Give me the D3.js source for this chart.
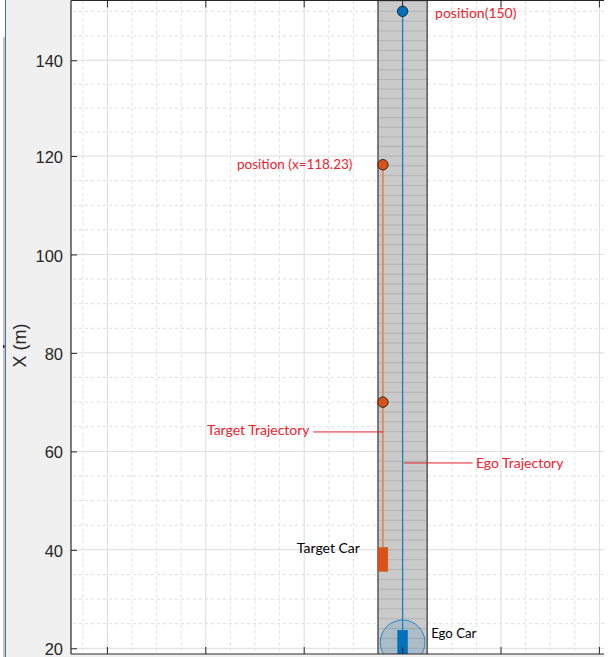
<!DOCTYPE html>
<html><head><meta charset="utf-8">
<script src="https://cdn.jsdelivr.net/npm/d3@7/dist/d3.min.js"></script>
<style>html,body{margin:0;padding:0;background:#fff}svg{display:block}</style>
</head><body><svg id="c" width="615" height="657"></svg>
<script>
const yTicks = [20, 40, 60, 80, 100, 120, 140];
const lateralMajor = [60, 40, 20, 0, -20, -40];
const egoTrajectory = [[0, 21.2], [0, 150]];
const targetTrajectory = [[4, 37], [4, 118.23]];
const egoMarkers = [[0, 150]];
const targetMarkers = [[4, 118.23], [4, 70]];
const roadEdges = [5, -5];
const egoCarExtent = [18.5, 23.66];
const targetCarExtent = [35.65, 40.47];
const egoRadius = 4.55;
const labelTexts = ["position(150)", "position (x=118.23)", "Target Trajectory", "Ego Trajectory", "Target Car", "Ego Car"];
const labelLat = [-6.6, 10.2, 39.76, -14.9, 21.5, -5.8];
const labelX = [149.5, 118.23, 64.2, 57.6, 40.2, 23];

const L = 71, R = 604, T = 0.5, B = 654;
const svg = d3.select("#c");
const y = d3.scaleLinear().domain([150, 140, 120, 20]).range([11.3, 60.3, 156, 648.3]);
const x = d3.scaleLinear().domain([0, 20]).range([402.6, 304.2]);
const minorY = d3.range(20, 155, 5).filter(d => d % 20);
const minorX = d3.range(-40, 70, 5).filter(d => x(d) > L && x(d) < R && d % 20);
const labelAnchor = ["start", "end", "start", "start", "start", "start"];
const labelColor = ["#f0202e", "#f0202e", "#f0202e", "#f0202e", "#000", "#000"];
const labelSize = [14, 13.5, 14, 14, 14, 13.2];
const leaders = [[18.15, 3.92, 63.95], [-0.28, -14.25, 57.65]];
const carHalf = 1;

// window chrome
svg.append("rect").attr("x", 5).attr("y", 0).attr("width", 599).attr("height", 657).attr("fill", "#f0f0f0");
svg.append("rect").attr("x", 3).attr("y", 37).attr("width", 2).attr("height", 620).attr("fill", "#c8c8c8");
svg.append("line").attr("x1", 5.5).attr("x2", 5.5).attr("y1", 0).attr("y2", 657).attr("stroke", "#4a6fa5");
svg.append("rect").attr("x", 3).attr("y", 345).attr("width", 1.5).attr("height", 3).attr("fill", "#222");
svg.append("rect").attr("x", L).attr("y", T).attr("width", R - L).attr("height", B - T).attr("fill", "#fff");

// grid
const g = svg.append("g");
g.selectAll(".my").data(minorY).join("line").attr("x1", L + 2).attr("x2", R).attr("y1", d => y(d)).attr("y2", d => y(d))
  .attr("stroke", "#dedede").attr("stroke-dasharray", "3 3");
g.selectAll(".mx").data(minorX).join("line").attr("y1", T).attr("y2", B).attr("x1", d => x(d)).attr("x2", d => x(d))
  .attr("stroke", "#dedede").attr("stroke-dasharray", "3 3");
g.selectAll(".gy").data(yTicks).join("line").attr("x1", L).attr("x2", R).attr("y1", d => y(d)).attr("y2", d => y(d))
  .attr("stroke", "#dcdcdc");
g.selectAll(".gx").data(lateralMajor).join("line").attr("y1", T).attr("y2", B).attr("x1", d => x(d)).attr("x2", d => x(d))
  .attr("stroke", "#dcdcdc");

// road
svg.append("clipPath").attr("id", "pc").append("rect").attr("x", L).attr("y", T).attr("width", R - L).attr("height", B - T);
const p = svg.append("g").attr("clip-path", "url(#pc)");
p.append("rect").attr("x", x(roadEdges[0])).attr("y", T).attr("width", x(roadEdges[1]) - x(roadEdges[0])).attr("height", B - T).attr("fill", "#cacaca");
p.selectAll(".st").data(d3.range(18, 154, 2)).join("line")
  .attr("x1", x(roadEdges[0])).attr("x2", x(roadEdges[1])).attr("y1", d => y(d)).attr("y2", d => y(d))
  .attr("stroke", "#b2b2b2");
p.selectAll(".ed").data(roadEdges).join("line").attr("x1", d => x(d)).attr("x2", d => x(d)).attr("y1", T).attr("y2", B)
  .attr("stroke", "#5f5f5f").attr("stroke-width", 1.6);

// ego zone
p.append("circle").attr("cx", x(0)).attr("cy", y(egoTrajectory[0][1])).attr("r", x(0) - x(egoRadius))
  .attr("fill", "#0072bd").attr("fill-opacity", 0.14).attr("stroke", "#2a86c8");

// trajectories
const line = d3.line().x(d => x(d[0])).y(d => y(d[1]));
p.append("path").attr("d", line(targetTrajectory)).attr("fill", "none").attr("stroke", "#d9906f").attr("stroke-width", 2);
p.append("path").attr("d", line(egoTrajectory)).attr("fill", "none").attr("stroke", "#1481c9").attr("stroke-width", 1.3);

// cars
const car = (lat, ext, fill, edge) => p.append("rect")
  .attr("x", x(lat + carHalf)).attr("y", y(ext[1]))
  .attr("width", x(lat - carHalf) - x(lat + carHalf)).attr("height", y(ext[0]) - y(ext[1]))
  .attr("fill", fill).attr("stroke", edge).attr("stroke-width", 0.5);
car(4, targetCarExtent, "#d95319", "#c8551f");
car(0, egoCarExtent, "#0072bd", "#0a68a8");

// markers
p.selectAll(".me").data(egoMarkers).join("circle").attr("cx", d => x(d[0])).attr("cy", d => y(d[1])).attr("r", 5.2)
  .attr("fill", "#0072bd").attr("stroke", "#1c2b38");
p.selectAll(".mt").data(targetMarkers).join("circle").attr("cx", d => x(d[0])).attr("cy", d => y(d[1])).attr("r", 5.2)
  .attr("fill", "#d95319").attr("stroke", "#33241c");

// y axis
const yAxis = svg.append("g").attr("transform", `translate(${L},0)`)
  .call(d3.axisLeft(y).tickValues(yTicks).tickSize(-6).tickPadding(8).tickFormat(d3.format("d")));
yAxis.select(".domain").remove();
yAxis.selectAll("line").attr("stroke", "#262626");
yAxis.selectAll("text").attr("font-family", "Liberation Sans").attr("font-size", 16.5).attr("fill", "#262626").attr("dy", "0.4em");

// frame and x ticks
const ax = svg.append("g").attr("stroke", "#262626");
ax.append("line").attr("x1", L).attr("x2", R).attr("y1", T).attr("y2", T).attr("stroke-width", 1.2);
ax.append("line").attr("x1", L).attr("x2", R).attr("y1", B).attr("y2", B);
ax.append("line").attr("x1", L).attr("x2", L).attr("y1", T).attr("y2", B).attr("stroke-width", 1.2);
ax.selectAll(".tt").data(lateralMajor).join("line").attr("x1", d => x(d)).attr("x2", d => x(d)).attr("y1", T).attr("y2", T + 7);
ax.selectAll(".tb").data(lateralMajor).join("line").attr("x1", d => x(d)).attr("x2", d => x(d)).attr("y1", B).attr("y2", B - 7);

svg.append("text").attr("transform", "translate(26,345.5) rotate(-90)").attr("text-anchor", "middle")
  .attr("font-family", "Liberation Sans").attr("font-size", 18).attr("fill", "#262626").text("X (m)");

// leaders
svg.selectAll(".ld").data(leaders).join("line").attr("x1", d => x(d[0])).attr("x2", d => x(d[1])).attr("y1", d => y(d[2])).attr("y2", d => y(d[2]))
  .attr("stroke", "#e0202c");

// annotations
svg.selectAll(".an").data(labelTexts).join("text")
  .attr("x", (d, i) => x(labelLat[i])).attr("y", (d, i) => y(labelX[i])).attr("dy", "0.33em")
  .attr("text-anchor", (d, i) => labelAnchor[i]).attr("font-family", "Lato").attr("font-size", (d, i) => labelSize[i])
  .attr("fill", (d, i) => labelColor[i]).text(d => d);
</script></body></html>
